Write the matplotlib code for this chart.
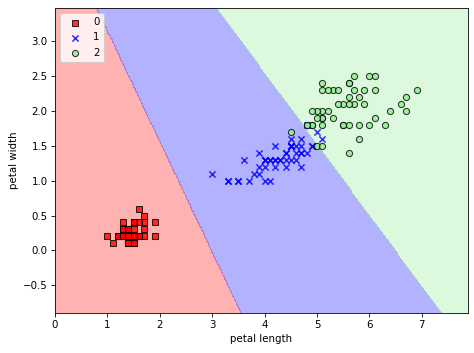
import numpy as np
import matplotlib
matplotlib.use("Agg")
import matplotlib.pyplot as plt
from matplotlib.colors import ListedColormap

# Iris petal length / width
petal_length_0 = [1.4,1.4,1.3,1.5,1.4,1.7,1.4,1.5,1.4,1.5,1.5,1.6,1.4,1.1,1.2,1.5,1.3,1.4,1.7,1.5,
                  1.7,1.5,1.0,1.7,1.9,1.6,1.6,1.5,1.4,1.6,1.6,1.5,1.5,1.4,1.5,1.2,1.3,1.4,1.3,1.5,
                  1.3,1.3,1.3,1.6,1.9,1.4,1.6,1.4,1.5,1.4]
petal_width_0 = [0.2,0.2,0.2,0.2,0.2,0.4,0.3,0.2,0.2,0.1,0.2,0.2,0.1,0.1,0.2,0.4,0.4,0.3,0.3,0.3,
                 0.2,0.4,0.2,0.5,0.2,0.2,0.4,0.2,0.2,0.2,0.2,0.4,0.1,0.2,0.2,0.2,0.2,0.1,0.2,0.2,
                 0.3,0.3,0.2,0.6,0.4,0.3,0.2,0.2,0.2,0.2]
petal_length_1 = [4.7,4.5,4.9,4.0,4.6,4.5,4.7,3.3,4.6,3.9,3.5,4.2,4.0,4.7,3.6,4.4,4.5,4.1,4.5,3.9,
                  4.8,4.0,4.9,4.7,4.3,4.4,4.8,5.0,4.5,3.5,3.8,3.7,3.9,5.1,4.5,4.5,4.7,4.4,4.1,4.0,
                  4.4,4.6,4.0,3.3,4.2,4.2,4.2,4.3,3.0,4.1]
petal_width_1 = [1.4,1.5,1.5,1.3,1.5,1.3,1.6,1.0,1.3,1.4,1.0,1.5,1.0,1.4,1.3,1.4,1.5,1.0,1.5,1.1,
                 1.8,1.3,1.5,1.2,1.3,1.4,1.4,1.7,1.5,1.0,1.1,1.0,1.2,1.6,1.5,1.6,1.5,1.3,1.3,1.3,
                 1.2,1.4,1.2,1.0,1.3,1.2,1.3,1.3,1.1,1.3]
petal_length_2 = [6.0,5.1,5.9,5.6,5.8,6.6,4.5,6.3,5.8,6.1,5.1,5.3,5.5,5.0,5.1,5.3,5.5,6.7,6.9,5.0,
                  5.7,4.9,6.7,4.9,5.7,6.0,4.8,4.9,5.6,5.8,6.1,6.4,5.6,5.1,5.6,6.1,5.6,5.5,4.8,5.4,
                  5.6,5.1,5.1,5.9,5.7,5.2,5.0,5.2,5.4,5.1]
petal_width_2 = [2.5,1.9,2.1,1.8,2.2,2.1,1.7,1.8,1.8,2.5,2.0,1.9,2.1,2.0,2.4,2.3,1.8,2.2,2.3,1.5,
                 2.3,2.0,2.0,1.8,2.1,1.8,1.8,1.8,2.1,1.6,1.9,2.0,2.2,1.5,1.4,2.3,2.4,1.8,1.8,2.1,
                 2.4,2.3,1.9,2.3,2.5,2.3,1.9,2.0,2.3,1.8]

class_labels = ["0", "1", "2"]
markers = ["s", "x", "o"]
colors = ["red", "blue", "lightgreen"]

# linear decision functions (weights for x, y, bias)
w_class0 = [1.588, 1.0, -4.739]   # class 0 where score < 0
w_class2 = [1.023, 1.0, -6.63]    # class 2 where score > 0

X = [(petal_length_0, petal_width_0), (petal_length_1, petal_width_1), (petal_length_2, petal_width_2)]
all_x = np.concatenate([petal_length_0, petal_length_1, petal_length_2])
all_y = np.concatenate([petal_width_0, petal_width_1, petal_width_2])

x_min, x_max = all_x.min() - 1, all_x.max() + 1
y_min, y_max = all_y.min() - 1, all_y.max() + 1
xx, yy = np.meshgrid(np.arange(x_min, x_max, 0.02), np.arange(y_min, y_max, 0.02))
s0 = w_class0[0] * xx + w_class0[1] * yy + w_class0[2]
s2 = w_class2[0] * xx + w_class2[1] * yy + w_class2[2]
Z = np.ones_like(xx)
Z[s2 > 0] = 2
Z[s0 < 0] = 0

fig = plt.figure(figsize=(474 / 74, 353 / 74), dpi=74)
ax = fig.add_axes([55 / 474, 1 - 313 / 353, (468 - 55) / 474, (313 - 8) / 353])
cmap = ListedColormap(colors)
ax.contourf(xx, yy, Z, levels=[-0.5, 0.5, 1.5, 2.5], alpha=0.3, cmap=cmap)
ax.set_xlim(xx.min(), xx.max())
ax.set_ylim(yy.min(), yy.max())

for i, (px, py) in enumerate(X):
    if markers[i] == "x":
        ax.scatter(px, py, alpha=0.8, c=colors[i], marker=markers[i], label=class_labels[i])
    else:
        ax.scatter(px, py, alpha=0.8, c=colors[i], marker=markers[i], label=class_labels[i],
                   edgecolor="black")

ax.set_xlabel("petal length")
ax.set_ylabel("petal width")
ax.legend(loc="upper left")
fig.savefig("out.png", dpi=74)
